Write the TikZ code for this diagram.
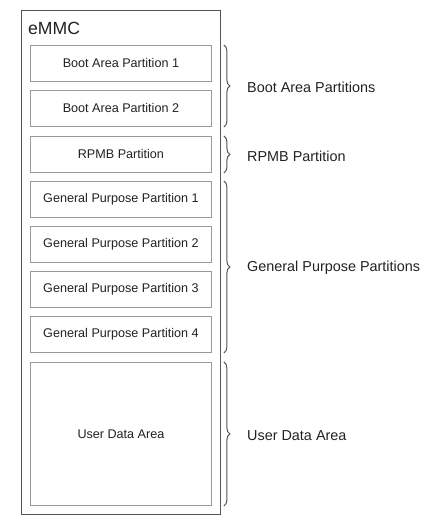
\documentclass[tikz,border=0pt]{standalone}
\usepackage{fontspec}
\setmainfont{Liberation Sans}
\usetikzlibrary{decorations.pathreplacing}
\definecolor{txt}{HTML}{222222}
\definecolor{boxc}{HTML}{9A9A9A}
\definecolor{outc}{HTML}{555555}
\tikzset{
  part/.style={draw=boxc, line width=0.9pt, minimum width=181pt, anchor=north west, inner sep=0pt, font=\fontsize{12.6}{14}\selectfont, text=txt},
  brc/.style={draw=outc, line width=1pt, decorate, decoration={brace, amplitude=6pt}},
  lbl/.style={anchor=west, font=\fontsize{14.4}{16}\selectfont, text=txt, inner sep=0pt}
}
\begin{document}
\begin{tikzpicture}[x=1pt,y=-1pt]
\useasboundingbox (0,0) rectangle (430,520);
\fill[white] (0,0) rectangle (430,520);
\node[draw=outc, line width=1.1pt, minimum width=199pt, minimum height=504pt, anchor=north west, inner sep=0pt] (emmc) at (21,10) {};
\node[anchor=west, font=\fontsize{17.6}{19}\selectfont, text=txt, inner sep=0pt] (title) at (28,28) {eMMC};
\node[part, minimum height=36pt] (b1) at (30,45) {Boot Area Partition 1};
\node[part, minimum height=36pt] (b2) at (30,90) {Boot Area Partition 2};
\node[part, minimum height=36pt] (rp) at (30,136) {RPMB Partition};
\node[part, minimum height=36pt] (g1) at (30,181) {General Purpose Partition 1};
\node[part, minimum height=36pt] (g2) at (30,226) {General Purpose Partition 2};
\node[part, minimum height=36pt] (g3) at (30,271) {General Purpose Partition 3};
\node[part, minimum height=36pt] (g4) at (30,316) {General Purpose Partition 4};
\node[part, minimum height=143pt] (ud) at (30,362) {User Data Area};
\draw[brc] ([xshift=12pt]b1.north east) -- ([xshift=12pt]b2.south east);
\draw[brc] ([xshift=12pt]rp.north east) -- ([xshift=12pt]rp.south east);
\draw[brc] ([xshift=12pt]g1.north east) -- ([xshift=12pt]g4.south east);
\draw[brc] ([xshift=12pt]ud.north east) -- ([xshift=12pt]ud.south east);
\node[lbl] (lb) at (247,87) {Boot Area Partitions};
\node[lbl] (lr) at (247,156) {RPMB Partition};
\node[lbl] (lg) at (247,268) {General Purpose Partitions};
\node[lbl] (lu) at (247,436) {User Data Area};
\end{tikzpicture}
\end{document}
